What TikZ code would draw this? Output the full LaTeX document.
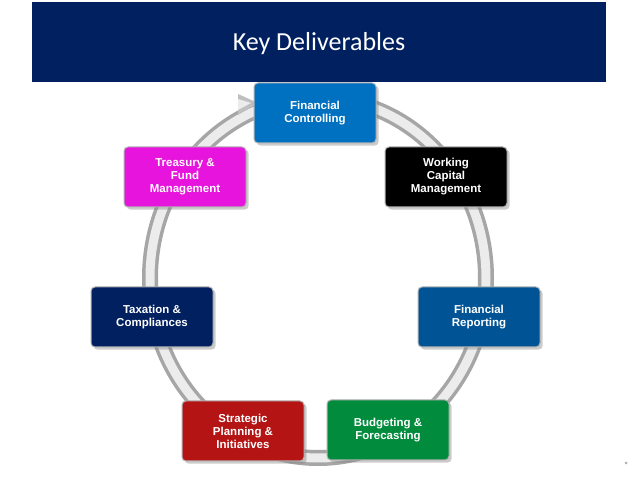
\documentclass[tikz,border=0pt]{standalone}
\usepackage{fontspec}
\setmainfont{Liberation Sans}
\newfontfamily\titlefont{Carlito}
\usetikzlibrary{shadows}
\definecolor{navy}{RGB}{0,32,96}
\definecolor{fcblue}{RGB}{0,112,192}
\definecolor{frblue}{RGB}{0,84,150}
\definecolor{tcnavy}{RGB}{0,32,96}
\definecolor{bfgreen}{RGB}{0,140,60}
\definecolor{spred}{RGB}{180,20,20}
\definecolor{tmag}{RGB}{230,20,220}
\tikzset{
  box/.style={draw=gray!60, line width=1pt, rounded corners=4pt, minimum width=122pt, minimum height=60pt,
    text=white, align=center, font=\fontsize{11.5}{13}\selectfont\bfseries, drop shadow={opacity=0.4}},
}
\begin{document}
\begin{tikzpicture}[x=1pt,y=-1pt]
\useasboundingbox (0,0) rectangle (638,478);
\fill[white] (0,0) rectangle (638,478);
\fill[navy] (32,2) rectangle (606,82);
\node[text=white, font=\titlefont\fontsize{26}{30}\selectfont] (title) at (319,44) {Key Deliverables};
% ring
\draw[gray!70, line width=16pt] (318,278) ellipse [x radius=168, y radius=180];
\draw[gray!15, line width=9pt] (318,278) ellipse [x radius=168, y radius=180];
\fill[gray!50] (238,94) -- (258,103) -- (238,115) -- cycle;
\fill[gray!15] (238,99) -- (251,103) -- (238,110) -- cycle;
\node[box, fill=fcblue] (fc) at (315,113) {Financial\\Controlling};
\node[box, fill=black] (wc) at (446,177) {Working\\Capital\\Management};
\node[box, fill=frblue] (fr) at (479,317) {Financial\\Reporting};
\node[box, fill=bfgreen] (bf) at (388,430) {Budgeting \&\\Forecasting};
\node[box, fill=spred] (sp) at (243,431) {Strategic\\Planning \&\\Initiatives};
\node[box, fill=tcnavy] (tc) at (152,317) {Taxation \&\\Compliances};
\node[box, fill=tmag] (tf) at (185,177) {Treasury \&\\Fund\\Management};
\fill[gray!60] (626,463) circle (1.5);
\end{tikzpicture}
\end{document}
